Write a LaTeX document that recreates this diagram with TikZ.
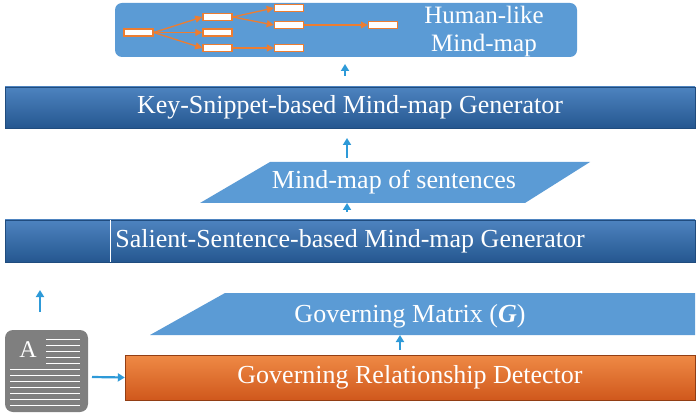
\documentclass[tikz,border=0pt]{standalone}
\usepackage{fontspec}
\setmainfont{Liberation Serif}
\usetikzlibrary{arrows.meta}
\definecolor{lightblue}{HTML}{5B9BD5}
\definecolor{darkblue}{HTML}{2E6DB4}
\definecolor{mmorange}{HTML}{ED7D31}
\definecolor{deeporange}{HTML}{D0581C}
\definecolor{docgray}{HTML}{7F7F7F}
\definecolor{arrowblue}{HTML}{2E9AD8}
\tikzset{
  bar/.style={draw=darkblue!70!black, top color=darkblue!85!white, bottom color=darkblue!80!black, text=white, font=\fontsize{26}{26}\selectfont},
  para/.style={fill=lightblue, text=white, font=\fontsize{26}{26}\selectfont},
  up/.style={-{Triangle[length=7pt,width=8pt]}, arrowblue, line width=2.2pt},
  mm/.style={draw=mmorange, line width=1.5pt, fill=white, minimum width=29pt, minimum height=7pt, inner sep=0pt},
  mmarrow/.style={-{Triangle[length=7pt,width=7pt]}, mmorange, line width=1.3pt}
}
\begin{document}
\begin{tikzpicture}[x=1pt, y=-1pt]
\useasboundingbox (0,0) rectangle (700,419);
% top mind-map box
\fill[lightblue, rounded corners=7pt] (115,3) rectangle (577,57);
\node[text=white, align=center, font=\fontsize{25}{28}\selectfont] (human) at (484,31) {Human-like\\Mind-map};
\node[mm] (r) at (138.5,32.5) {};
\node[mm] (a1) at (217.5,17) {};
\node[mm] (a2) at (217.5,32.5) {};
\node[mm] (a3) at (217.5,48) {};
\node[mm] (b1) at (289,8) {};
\node[mm] (b2) at (289,25) {};
\node[mm] (b3) at (289,48) {};
\node[mm] (c1) at (383,25) {};
\foreach \s/\t in {r/a1,r/a2,r/a3,a1/b1,a1/b2,a3/b3,b2/c1}
  \draw[mmarrow] (\s.east) -- (\t.west);
% bars and layers
\coordinate (u1) at (345,76); \coordinate (u1e) at (345,64);
\draw[up] (u1) -- (u1e);
\node[bar, minimum width=690pt, minimum height=41pt, inner sep=0pt] (kg) at (350,107.5) {Key-Snippet-based Mind-map Generator};
\fill[para] (200,203) -- (270,162) -- (590,162) -- (525,203) -- cycle;
\node[text=white, font=\fontsize{26}{26}\selectfont] (mms) at (394,182) {Mind-map of sentences};
\coordinate (u2) at (347,158); \coordinate (u2e) at (347,138);
\draw[up] (u2) -- (u2e);
\node[bar, minimum width=690pt, minimum height=42pt, inner sep=0pt] (sg) at (350,241) {Salient-Sentence-based Mind-map Generator};
\draw[white, line width=0.8pt] (110,220) -- (110,262);
\coordinate (u3) at (347,212); \coordinate (u3e) at (347,203);
\draw[up] (u3) -- (u3e);
\fill[para] (150,335) -- (225,293) -- (695,293) -- (695,335) -- cycle;
\node[text=white, font=\fontsize{26}{26}\selectfont] (gm) at (410,316) {Governing Matrix (\textbf{\textit{G}})};
\coordinate (u4) at (400,350); \coordinate (u4e) at (400,335);
\draw[up] (u4) -- (u4e);
\node[draw=deeporange!70!black, top color=mmorange!90!white, bottom color=deeporange, text=white, font=\fontsize{26}{26}\selectfont, minimum width=570pt, minimum height=45pt, inner sep=0pt] (grd) at (410,377.5) {Governing Relationship Detector};
% document icon
\fill[docgray, rounded corners=8pt] (5,330) rectangle (88,412);
\node[text=white, font=\fontsize{24}{24}\selectfont] (A) at (28,350) {A};
\foreach \y in {339,345,351,357,363} \draw[white, line width=0.5pt] (46,\y) -- (80,\y);
\foreach \y in {369,375,381,387,393,399,405} \draw[white, line width=0.5pt] (10,\y) -- (80,\y);
\coordinate (u5) at (40,312); \coordinate (u5e) at (40,290);
\draw[up] (u5) -- (u5e);
\coordinate (d0) at (92,377);
\draw[up] (d0) -- (grd.west);
\end{tikzpicture}
\end{document}
